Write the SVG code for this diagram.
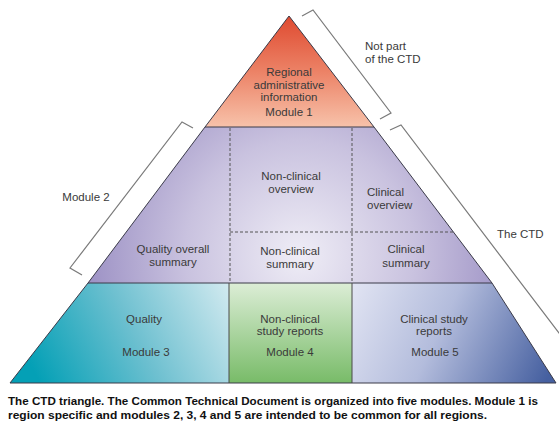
<svg xmlns="http://www.w3.org/2000/svg" width="559" height="438" viewBox="0 0 559 438">
<defs>
<linearGradient id="g1" x1="0" y1="16" x2="0" y2="127" gradientUnits="userSpaceOnUse">
<stop offset="0" stop-color="#df4a30"/><stop offset="0.5" stop-color="#ec8266"/><stop offset="1" stop-color="#f7c2aa"/>
</linearGradient>
<radialGradient id="g2" cx="300" cy="255" r="230" gradientUnits="userSpaceOnUse">
<stop offset="0" stop-color="#efedf6"/><stop offset="0.5" stop-color="#c9c2df"/><stop offset="1" stop-color="#9589c0"/>
</radialGradient>
<linearGradient id="g3" x1="40" y1="383" x2="229" y2="283" gradientUnits="userSpaceOnUse">
<stop offset="0" stop-color="#04a0b6"/><stop offset="0.5" stop-color="#6ec0d0"/><stop offset="1" stop-color="#d2eaf0"/>
</linearGradient>
<linearGradient id="g4" x1="0" y1="283" x2="0" y2="383" gradientUnits="userSpaceOnUse">
<stop offset="0" stop-color="#dcedd6"/><stop offset="1" stop-color="#78bb68"/>
</linearGradient>
<linearGradient id="g5" x1="352" y1="290" x2="545" y2="383" gradientUnits="userSpaceOnUse">
<stop offset="0" stop-color="#e0e3f2"/><stop offset="0.45" stop-color="#b3bcdc"/><stop offset="1" stop-color="#4660a0"/>
</linearGradient>
</defs>
<style>
.t{font-family:"Liberation Sans",Arial,sans-serif;font-size:11.5px;fill:#3a3a3a;}
.c{text-anchor:middle;}
.edge{fill:none;stroke:#3a3a48;stroke-width:1;}
.dash{fill:none;stroke:#555;stroke-width:1;stroke-dasharray:3,2;}
.div{fill:none;stroke:#4a4a4a;stroke-width:1;}
.br{fill:none;stroke:#7a7a7a;stroke-width:1.2;}
.cap{font-family:"Liberation Sans",Arial,sans-serif;font-size:11.5px;font-weight:bold;fill:#111;}
</style>
<g id="module1">
<polygon points="289,16 374,127 205,127" fill="url(#g1)"/>
<text class="t c" x="289" y="76">Regional</text>
<text class="t c" x="289" y="89">administrative</text>
<text class="t c" x="289" y="101">information</text>
<text class="t c" x="289" y="116">Module 1</text>
</g>
<g id="module2">
<polygon points="205,127 374,127 492,283 88,283" fill="url(#g2)"/>
<line class="dash" x1="230" y1="128" x2="230" y2="283"/>
<line class="dash" x1="352" y1="128" x2="352" y2="283"/>
<line class="dash" x1="230" y1="232" x2="454" y2="232"/>
</g>
<g id="quality-overall-summary">
<text class="t c" x="173" y="253">Quality overall</text>
<text class="t c" x="173" y="266">summary</text>
</g>
<g id="nonclinical-overview">
<text class="t c" x="291" y="180">Non-clinical</text>
<text class="t c" x="291" y="193">overview</text>
</g>
<g id="clinical-overview">
<text class="t" x="367" y="196">Clinical</text>
<text class="t" x="367" y="209">overview</text>
</g>
<g id="nonclinical-summary">
<text class="t c" x="290" y="255">Non-clinical</text>
<text class="t c" x="290" y="268">summary</text>
</g>
<g id="clinical-summary">
<text class="t c" x="406" y="253">Clinical</text>
<text class="t c" x="406" y="267">summary</text>
</g>
<g id="module3">
<polygon points="88,283 229,283 229,383 10,383" fill="url(#g3)"/>
<text class="t c" x="144" y="323">Quality</text>
<text class="t c" x="146" y="356">Module 3</text>
</g>
<g id="module4">
<rect x="229" y="283" width="123" height="100" fill="url(#g4)"/>
<text class="t c" x="290" y="323">Non-clinical</text>
<text class="t c" x="290" y="335">study reports</text>
<text class="t c" x="290" y="356">Module 4</text>
</g>
<g id="module5">
<polygon points="352,283 492,283 556,383 352,383" fill="url(#g5)"/>
<text class="t c" x="434" y="323">Clinical study</text>
<text class="t c" x="434" y="335">reports</text>
<text class="t c" x="435" y="356">Module 5</text>
</g>
<g id="outlines">
<polyline class="edge" points="205,127 289,16 374,127"/>
<line class="edge" x1="205" y1="127" x2="374" y2="127"/>
<polyline class="edge" points="205,127 88,283 10,383 556,383 492,283 374,127"/>
<line class="edge" x1="88" y1="283" x2="492" y2="283"/>
<line class="div" x1="229" y1="283" x2="229" y2="383"/>
<line class="div" x1="352" y1="283" x2="352" y2="383"/>
</g>
<g id="connectors">
<polyline class="br" points="302,16 313,10 391,113 380,119"/>
<polyline class="br" points="390,130 401,125 562,337"/>
<polyline class="br" points="193,128 182,122 70,268 82,275"/>
</g>
<g id="labels">
<text class="t" x="365" y="50">Not part</text>
<text class="t" x="365" y="63">of the CTD</text>
<text class="t" x="497" y="238">The CTD</text>
<text class="t c" x="86" y="201">Module 2</text>
</g>
<g id="caption">
<text class="cap" x="8" y="405" textLength="530" lengthAdjust="spacingAndGlyphs">The CTD triangle. The Common Technical Document is organized into five modules. Module 1 is</text>
<text class="cap" x="8" y="419" textLength="479" lengthAdjust="spacingAndGlyphs">region specific and modules 2, 3, 4 and 5 are intended to be common for all regions.</text>
</g>
</svg>
